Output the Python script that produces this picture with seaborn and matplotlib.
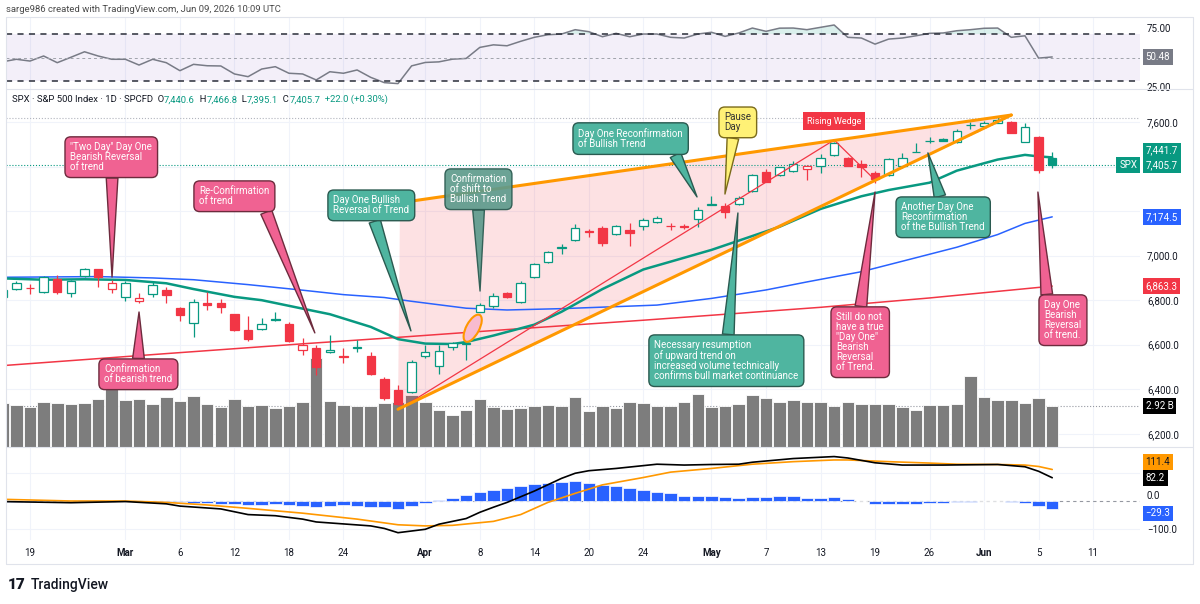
import numpy as np
import pandas as pd
import matplotlib.pyplot as plt
import matplotlib.transforms as mtransforms
from matplotlib.patches import Ellipse
from matplotlib.lines import Line2D
import seaborn as sns

sns.set_theme(style='white')
plt.rcParams['font.family'] = ['Roboto', 'DejaVu Sans']

GREEN = '#089981'
RED = '#f23645'
BLUE = '#2962ff'
ORANGE = '#ff9800'
DARK = '#131722'
GRID = '#f0f3fa'
BORDER = '#e0e3eb'
PINK, PINK_EC = '#f06292', '#6d2b3d'
TEAL, TEAL_EC = '#4fb5a0', '#2a5a50'

# ---- data (x = trading day, 0 = Feb 19) ----
day_idx = list(range(-2, 76))
opens = [6815, 6849, 6855, 6838, 6897, 6834, 6910, 6939, 6850, 6816, 6796, 6828, 6846, 6764, 6696, 6789,
         6786, 6737, 6666, 6669, 6716, 6692, 6576, 6587, 6567, 6548, 6591, 6551, 6446, 6396, 6389, 6549,
         6504, 6590, 6604, 6746, 6775, 6834, 6793, 6906, 6973, 7036, 7071, 7110, 7123, 7098, 7115, 7133,
         7150, 7135, 7132, 7164, 7228, 7225, 7232, 7291, 7378, 7363, 7381, 7390, 7403, 7452, 7440, 7412,
         7373, 7363, 7403, 7465, 7514, 7523, 7512, 7586, 7583, 7595, 7602, 7512, 7535, 7440.6]
highs = [6850, 6885, 6873, 6910, 6913, 6892, 6945, 6942, 6891, 6884, 6831, 6880, 6861, 6771, 6805, 6838,
         6805, 6740, 6729, 6721, 6746, 6701, 6629, 6600, 6644, 6584, 6621, 6569, 6455, 6419, 6531, 6599,
         6599, 6612, 6612, 6789, 6831, 6838, 6886, 6968, 7020, 7053, 7141, 7119, 7133, 7137, 7146, 7168,
         7178, 7148, 7142, 7220, 7268, 7238, 7268, 7365, 7390, 7400, 7427, 7408, 7456, 7512, 7442, 7430,
         7380, 7440, 7463, 7505, 7535, 7530, 7568, 7600, 7605, 7625, 7603, 7595, 7540, 7466.8]
lows = [6805, 6845, 6828, 6834, 6828, 6813, 6905, 6859, 6834, 6796, 6786, 6815, 6786, 6708, 6633, 6756,
        6741, 6662, 6618, 6666, 6705, 6611, 6554, 6464, 6564, 6516, 6569, 6464, 6352, 6330, 6382, 6539,
        6468, 6578, 6531, 6746, 6764, 6808, 6789, 6900, 6966, 7008, 7067, 7085, 7045, 7095, 7045, 7115,
        7145, 7115, 7120, 7128, 7227, 7171, 7228, 7288, 7330, 7358, 7378, 7340, 7373, 7448, 7402, 7352,
        7328, 7360, 7393, 7464, 7505, 7515, 7508, 7569, 7580, 7594, 7552, 7510, 7370, 7395.1]
closes = [6845, 6879, 6853, 6903, 6836, 6888, 6940, 6903, 6876, 6879, 6811, 6868, 6823, 6733, 6791, 6777,
          6771, 6666, 6626, 6694, 6710, 6618, 6599, 6498, 6576, 6546, 6585, 6468, 6359, 6334, 6524, 6565,
          6573, 6606, 6609, 6778, 6819, 6813, 6879, 6963, 7018, 7038, 7126, 7108, 7058, 7133, 7103, 7160,
          7171, 7133, 7130, 7205, 7230, 7198, 7258, 7363, 7333, 7397, 7412, 7403, 7440, 7508, 7403, 7400,
          7343, 7433, 7440, 7467, 7516, 7517, 7562, 7587, 7598, 7610, 7553, 7580, 7383.7, 7405.7]
volume_b = [3.13, 3.01, 2.85, 3.25, 3.16, 3.06, 3.16, 3.42, 4.28, 3.39, 3.44, 3.11, 3.57, 3.30, 3.64, 3.11,
            2.87, 3.44, 2.92, 3.01, 2.82, 2.96, 3.21, 6.41, 3.28, 3.01, 2.92, 2.96, 3.16, 3.23, 3.71, 3.23,
            2.65, 2.30, 2.65, 3.44, 2.87, 2.73, 2.82, 2.96, 3.01, 2.92, 3.57, 2.58, 2.92, 2.78, 3.21, 3.16,
            2.96, 2.96, 3.21, 3.80, 2.87, 2.92, 3.11, 3.71, 3.49, 3.21, 3.34, 3.21, 3.21, 2.96, 3.25, 3.06,
            3.11, 3.06, 2.87, 2.68, 3.01, 3.01, 3.11, 5.07, 3.59, 3.35, 3.35, 3.16, 3.49, 2.92]
rsi_vals = [46.4, 48.5, 47.0, 51.3, 45.6, 50.2, 54.9, 51.3, 48.5, 48.5, 43.6, 48.5, 45.6, 38.8, 44.2, 43.0,
            42.8, 36.0, 33.7, 40.2, 42.2, 36.6, 36.0, 30.9, 37.9, 36.6, 39.4, 33.1, 28.6, 27.8, 42.9, 45.8,
            46.3, 48.6, 49.2, 58.6, 60.8, 60.0, 63.8, 67.2, 69.4, 70.0, 73.7, 72.0, 67.7, 70.6, 67.7, 70.0,
            70.0, 67.2, 66.6, 70.0, 71.5, 68.0, 70.9, 75.1, 72.3, 75.0, 75.1, 73.7, 75.7, 77.7, 67.2, 66.6,
            61.4, 65.7, 66.6, 68.5, 70.6, 70.9, 72.8, 73.7, 74.9, 75.1, 67.2, 68.5, 49.5, 50.48]
macd_hist = [-2, -2, -2, -1, -1, 1, 2, 2, 0, -1, -1, -2, -3, -5, -6, -8,
             -10, -12, -15, -14, -12, -14, -17, -20, -17, -15, -18, -20, -21, -28, -18, -6,
             5, 10, 20, 31, 40, 47, 53, 59, 62, 68, 72, 62, 56, 53, 45, 39,
             33, 27, 19, 18, 18, 13, 9, 14, 14, 18, 18, 12, 12, 14, 7, 0,
             -10, -10, -10, -9, -8, -6, -3, -2, -1, -1, -4, -8, -19, -29.3]

ema_idx = [-2, 1, 4, 7, 10, 12, 15, 17, 20, 22, 25, 27, 29, 31, 32, 34, 37, 39, 42, 45, 50, 55, 58, 61,
           63, 66, 68, 71, 73, 74, 75]
ema_vals = [6898, 6892, 6894, 6891, 6876, 6850, 6815, 6800, 6762, 6737, 6680, 6625, 6605, 6603, 6612, 6641,
            6690, 6748, 6850, 6938, 7026, 7130, 7210, 7267, 7295, 7328, 7382, 7432, 7453, 7446, 7441.7]
sma50_idx = [-2, 5, 9, 12, 16, 20, 23, 26, 28, 32, 35, 39, 43, 46, 50, 54, 57, 61, 64, 68, 71, 73, 75]
sma50_vals = [6903, 6906, 6900, 6892, 6870, 6845, 6825, 6812, 6795, 6764, 6756, 6762, 6771, 6778, 6808,
              6846, 6882, 6928, 6975, 7038, 7095, 7145, 7174.5]
sma200_idx = [-2, 10, 20, 27, 35, 45, 58, 66, 75]
sma200_vals = [6506, 6560, 6604, 6633, 6668, 6710, 6768, 6810, 6863.3]

macd_idx = [-2, 3, 7, 10, 11, 14, 16, 18, 20, 21, 23, 25, 26, 27, 29, 30, 32, 33, 34, 35, 37, 39, 40, 41,
            43, 46, 48, 50, 52, 53, 56, 59, 60, 62, 64, 67, 71, 73, 74, 75]
macd_vals = [-2, -6, -2, -10, -18, -28, -48, -52, -64, -74, -81, -88, -97, -112, -100, -82, -62, -40, -22,
             -5, 35, 80, 98, 107, 115, 130, 127, 129, 130, 137, 150, 157, 152, 135, 127, 127, 129, 121, 105,
             82.2]
signal_idx = [-2, 3, 7, 10, 13, 16, 20, 24, 27, 29, 31, 34, 36, 38, 40, 42, 45, 47, 50, 53, 56, 59, 60, 63,
              66, 68, 71, 73, 74, 75]
signal_vals = [6, 0, 0, -5, -14, -26, -43, -64, -84, -88, -86, -72, -48, -5, 27, 57, 83, 102, 115, 130, 139,
               145, 145, 139, 134, 130, 129, 127, 122, 111.4]

# rising wedge drawing (day, price)
wedge_top_x, wedge_top_y = [27.15, 72.0], [7238, 7632]
wedge_bot_x, wedge_bot_y = [27.0, 72.0], [6310, 7632]
pattern_x, pattern_y = [27.4, 59.0, 62.0], [6322, 7520, 7340]
pattern_dot_x, pattern_dot_y = [62.0, 71.7], [7340, 7619]

tick_idx = [0, 7, 11, 15, 19, 23, 29, 33, 37, 41, 45, 50, 54, 58, 62, 66, 70, 74, 78]
tick_lbl = ['19', 'Mar', '6', '12', '18', '24', 'Apr', '8', '14', '20', '24', 'May', '7', '13', '19', '26',
            'Jun', '5', '11']
price_grid = [6200, 6400, 6600, 6800, 7000, 7200, 7400, 7600]
price_ticks = [6200, 6400, 6600, 6800, 7000, 7600]  # 7,200 / 7,400 sit under the value boxes

df = pd.DataFrame({'day': day_idx, 'open': opens, 'high': highs, 'low': lows, 'close': closes,
                   'volume': volume_b, 'rsi': rsi_vals, 'hist': macd_hist})
prev_close = df['close'].shift(1).fillna(df['open'])
df['color'] = np.where(df['close'] >= prev_close, GREEN, RED)
df['face'] = np.where(df['close'] > df['open'], 'white', df['color'])
df['body_lo'] = df[['open', 'close']].min(axis=1)
df['body_h'] = (df['close'] - df['open']).abs().clip(lower=2.5)

W, H = 1200, 604
fig = plt.figure(figsize=(12, 6.04), dpi=100)


def rect(x0, y0, x1, y1):
    return [x0 / W, 1 - y1 / H, (x1 - x0) / W, (y1 - y0) / H]


ax_macd = fig.add_axes(rect(6, 447, 1140, 540))
ax_price = fig.add_axes(rect(6, 89, 1140, 447), sharex=ax_macd)
ax_rsi = fig.add_axes(rect(6, 17, 1140, 89), sharex=ax_macd)
ax_vol = ax_price.twinx()
ax_vol.set_zorder(0)
ax_price.set_zorder(1)
ax_price.patch.set_visible(False)

# ---- volume (behind price) ----
sns.barplot(x=df['day'], y=df['volume'], native_scale=True, ax=ax_vol, color='#7d7d7d', saturation=1,
            width=0.92, edgecolor='white', linewidth=0.6, errorbar=None, zorder=2)
ax_vol.axhline(2.92, color='#9598a1', lw=0.8, ls=':', zorder=1)
ax_vol.set_ylim(0, 358 / 13.94)
ax_vol.set_yticks([])
ax_vol.set_xlabel('')
ax_vol.set_ylabel('')
blend = mtransforms.blended_transform_factory(ax_vol.transAxes, ax_price.transData)
for p in price_grid:
    ax_vol.plot([0, 1], [p, p], transform=blend, color=GRID, lw=0.8, zorder=0)
for t in tick_idx:
    ax_vol.axvline(t, color=GRID, lw=0.8, zorder=0)

# ---- price pane ----
ax_price.fill(wedge_top_x + wedge_bot_x[::-1], wedge_top_y + wedge_bot_y[::-1], color=RED, alpha=0.15,
              lw=0, zorder=1)
sns.lineplot(x=sma200_idx, y=sma200_vals, ax=ax_price, color=RED, lw=1.1, zorder=2)
sns.lineplot(x=sma50_idx, y=sma50_vals, ax=ax_price, color=BLUE, lw=1.1, zorder=2)
sns.lineplot(x=ema_idx, y=ema_vals, ax=ax_price, color=GREEN, lw=1.8, zorder=2)
ax_price.vlines(df['day'], df['low'], df['high'], colors=df['color'], lw=0.9, zorder=3)
ax_price.bar(df['day'], df['body_h'], bottom=df['body_lo'], width=0.62, color=df['face'],
             edgecolor=df['color'], linewidth=0.9, zorder=4)
ax_price.plot(pattern_x, pattern_y, color=RED, lw=0.9, zorder=5)
ax_price.plot(pattern_dot_x, pattern_dot_y, color=RED, lw=0.9, ls=':', zorder=5)
ax_price.plot(wedge_top_x, wedge_top_y, color=ORANGE, lw=2.2, zorder=6, solid_capstyle='round')
ax_price.plot(wedge_bot_x, wedge_bot_y, color=ORANGE, lw=2.2, zorder=6, solid_capstyle='round')
ax_price.axhline(7405.7, color=GREEN, lw=0.8, ls=':', zorder=1)
ax_price.axhline(7619, color='#b2b5be', lw=0.8, ls=':', zorder=1)

ell = mtransforms.ScaledTranslation(32.48, 6674, ax_price.transData)
ax_price.add_patch(Ellipse((0, 0), 0.30, 0.13, angle=62, transform=fig.dpi_scale_trans + ell,
                           fc='#f8bbd0', ec=ORANGE, lw=1.5, zorder=7))

ax_price.set_ylim(6140.3, 7749)
ax_price.yaxis.tick_right()
ax_price.set_yticks(price_ticks)
ax_price.set_yticklabels([f'{p:,.1f}' for p in price_ticks])
ax_price.set_xlabel('')
ax_price.set_ylabel('')


def callout(text, tip, anchor, relpos, fc, ec, tc='white', alpha=1.0):
    ax_price.annotate(text, xy=tip, xytext=anchor, ha='left', va='top', fontsize=7, color=tc,
                      linespacing=1.0, zorder=12, annotation_clip=False,
                      bbox=dict(boxstyle='round,pad=0.55,rounding_size=0.6', fc=fc, ec=ec, lw=1.0, alpha=alpha),
                      arrowprops=dict(arrowstyle='wedge,tail_width=1.2,shrink_factor=0.5', fc=fc, ec=ec,
                                      lw=1.0, relpos=relpos, shrinkA=0, shrinkB=0, alpha=alpha))


callout('"Two Day" Day One\nBearish Reversal\nof trend', (6.02, 6904), (2.96, 7510), (0.51, 0), PINK, PINK_EC)
callout('Re-Confirmation\nof trend', (20.9, 6653), (12.42, 7312), (0.92, 0), PINK, PINK_EC)
callout('Day One Bullish\nReversal of Trend', (27.95, 6662), (22.25, 7271), (0.52, 0), TEAL, TEAL_EC)
callout('Confirmation\nof shift to\nBullish Trend', (33.02, 6841), (30.84, 7366), (0.5, 0), '#5e9b8c',
        TEAL_EC, alpha=0.92)
callout('Day One Reconfirmation\nof Bullish Trend', (48.94, 7264), (40.23, 7573), (0.9, 0), TEAL, TEAL_EC)
callout('Pause\nDay', (50.99, 7277), (50.94, 7644), (0.35, 0), '#fff176', '#7a6a1a', tc='#333333')
callout('Necessary resumption\nof upward trend on\nincreased volume technically\nconfirms bull market continuance',
        (51.94, 7192), (45.8, 6620), (0.51, 1), TEAL, TEAL_EC)
callout('Another Day One\nReconfirmation\nof the Bullish Trend', (65.88, 7462), (63.93, 7240), (0.48, 1),
        TEAL, TEAL_EC)
callout('Still do not\nhave a true\n"Day One"\nBearish\nReversal\nof Trend.', (62.0, 7286), (59.16, 6746),
        (0.5, 1), PINK, PINK_EC)
callout('Day One\nBearish\nReversal\nof trend.', (73.95, 7286), (74.42, 6800), (0.08, 1), PINK, PINK_EC)
callout('Confirmation\nof bearish trend', (8.0, 6747), (5.45, 6512), (0.5, 1), PINK, PINK_EC)
ax_price.text(59.0, 7605, 'Rising Wedge', ha='center', va='center', fontsize=6.5, color='white', zorder=12,
              bbox=dict(boxstyle='square,pad=0.45', fc=RED, ec='none'))

# ---- RSI pane ----
rsi = np.array(rsi_vals)
ax_rsi.axhspan(30, 70, color='#7e57c2', alpha=0.09, lw=0)
for t in tick_idx:
    ax_rsi.axvline(t, color=GRID, lw=0.8, zorder=0)
ax_rsi.fill_between(day_idx, 70, rsi, where=rsi > 70, interpolate=True, color=GREEN, alpha=0.15, lw=0)
sns.lineplot(x=day_idx, y=rsi_vals, ax=ax_rsi, color='#787b86', lw=1.1)
ax_rsi.axhline(70, color='#2a2e39', lw=1.1, dashes=(4, 3.5))
ax_rsi.axhline(30, color='#2a2e39', lw=1.1, dashes=(4, 3.5))
ax_rsi.axhline(50, color='#a0a3ab', lw=0.7, dashes=(3, 3))
ax_rsi.set_ylim(23.2, 84.5)
ax_rsi.yaxis.tick_right()
ax_rsi.set_yticks([25, 75])
ax_rsi.set_yticklabels(['25.00', '75.00'])
ax_rsi.set_xlabel('')
ax_rsi.set_ylabel('')

# ---- MACD pane ----
for t in tick_idx:
    ax_macd.axvline(t, color=GRID, lw=0.8, zorder=0)
for lvl in (100, -100):
    ax_macd.axhline(lvl, color=GRID, lw=0.8, zorder=0)
sns.barplot(x=df['day'], y=df['hist'], native_scale=True, ax=ax_macd, color=BLUE, saturation=1,
            width=0.92, edgecolor='white', linewidth=0.5, errorbar=None, zorder=2)
ax_macd.axhline(0, color='#9598a1', lw=0.8, dashes=(3, 3), zorder=1)
sns.lineplot(x=signal_idx, y=signal_vals, ax=ax_macd, color=ORANGE, lw=1.2, zorder=3)
sns.lineplot(x=macd_idx, y=macd_vals, ax=ax_macd, color='black', lw=1.2, zorder=4)
ax_macd.set_ylim(-137.8, 190.8)
ax_macd.yaxis.tick_right()
ax_macd.set_yticks([0, -100])
ax_macd.set_yticklabels(['0.0', '\u2212100.0'])
ax_macd.set_xlabel('')
ax_macd.set_ylabel('')

ax_macd.set_xlim(-1.76, 81.44)
ax_macd.set_xticks(tick_idx)
ax_macd.set_xticklabels(tick_lbl)
for lbl in ax_macd.get_xticklabels():
    if lbl.get_text() in ('Mar', 'Apr', 'May', 'Jun'):
        lbl.set_fontweight('bold')

for a in (ax_rsi, ax_price, ax_vol, ax_macd):
    for s in a.spines.values():
        s.set_visible(False)
    a.grid(False)
    a.tick_params(length=0, labelsize=7, colors=DARK, pad=5)
for a in (ax_rsi, ax_price, ax_vol):
    a.tick_params(axis='x', labelbottom=False)
ax_macd.tick_params(axis='x', pad=6)
ax_macd.yaxis.get_ticklabels()[0].set_va('bottom')


# ---- right-scale value boxes (nudged apart like the price scale does) ----
def value_box(ax, y, text, fc, tc='white', ha='left', dx=4, dy=0):
    ax.annotate(text, xy=(1, y), xycoords=('axes fraction', 'data'), xytext=(dx, dy),
                textcoords='offset points', ha=ha, va='center', fontsize=7, color=tc, zorder=30,
                annotation_clip=False, bbox=dict(boxstyle='square,pad=0.3', fc=fc, ec='none'))


value_box(ax_price, 7441.7, '7,441.7', GREEN, dy=5)
value_box(ax_price, 7405.7, '7,405.7', GREEN)
value_box(ax_price, 7405.7, 'SPX', GREEN, ha='right', dx=-2)
value_box(ax_price, 7174.5, '7,174.5', BLUE)
value_box(ax_price, 6863.3, '6,863.3', RED)
value_box(ax_vol, 2.92, '2.92 B', 'black')
value_box(ax_rsi, 50.48, '50.48', '#787b86')
value_box(ax_macd, 111.4, '111.4', ORANGE, tc=DARK, dy=5.3)
value_box(ax_macd, 82.2, '82.2', 'black')
value_box(ax_macd, -29.3, '\u221229.3', BLUE, dy=-3)

# ---- header texts ----
fig.text(6 / W, 1 - 10 / H, 'sarge986 created with TradingView.com, Jun 09, 2026 10:09 UTC', fontsize=6.8,
         color='#4a4a4a', va='center')
parts = [('SPX \u00b7 S&P 500 Index \u00b7 1D \u00b7 SPCFD', DARK), ('  O', DARK), ('7,440.6', GREEN),
         ('  H', DARK), ('7,466.8', GREEN), ('  L', DARK), ('7,395.1', GREEN), ('  C', DARK),
         ('7,405.7', GREEN), ('  +22.0 (+0.30%)', GREEN)]
prev = fig.text(12 / W, 1 - 100 / H, parts[0][0], fontsize=6.8, color=parts[0][1], va='center')
for txt, col in parts[1:]:
    prev = ax_price.annotate(txt, xy=(1, 0), xycoords=prev, va='bottom', ha='left', fontsize=6.8,
                             color=col, annotation_clip=False)

# logo
fig.text(8 / W, 1 - 585 / H, '17', fontsize=11, fontweight='heavy', color=DARK, va='center')
fig.text(31 / W, 1 - 585 / H, 'TradingView', fontsize=10, fontweight='medium', color=DARK, va='center')

# frame and pane separators
for y in (17, 89, 447, 564):
    fig.add_artist(Line2D([6 / W, 1193 / W], [1 - y / H, 1 - y / H], color=BORDER, lw=0.8))
for x in (6, 1193):
    fig.add_artist(Line2D([x / W, x / W], [1 - 17 / H, 1 - 564 / H], color=BORDER, lw=0.8))

fig.savefig('out.png', dpi=100)
